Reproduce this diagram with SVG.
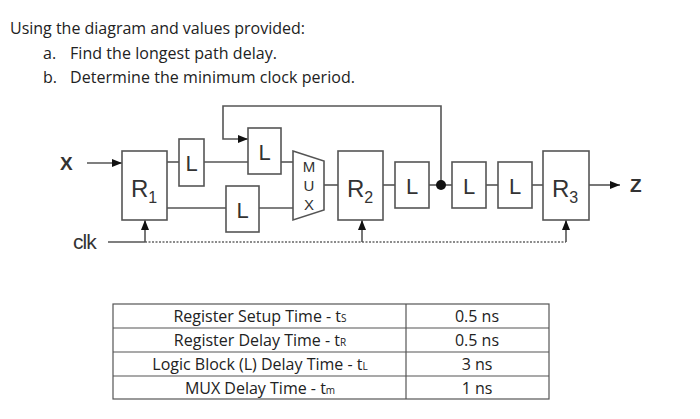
<svg xmlns="http://www.w3.org/2000/svg" width="700" height="419" viewBox="0 0 700 419">
<defs>
<marker id="ah" markerWidth="10" markerHeight="8" refX="10" refY="4" orient="auto" markerUnits="userSpaceOnUse"><path d="M0,0 L10,4 L0,8 Z" fill="#111"/></marker>
</defs>
<style>
.b{fill:#fff;stroke:#555;stroke-width:1.6}
.w{fill:none;stroke:#555;stroke-width:1.6}
.d{fill:none;stroke:#666;stroke-width:1.6;stroke-dasharray:2,1.5}
.t{font-family:"Open Sans","Liberation Sans",sans-serif;font-size:16px;fill:#222}
.a{font-family:"Liberation Sans",Arial,sans-serif;fill:#333}
.c{text-anchor:middle}
</style>
<rect width="700" height="419" fill="#fff"/>
<text class="t" x="10" y="34" textLength="295">Using the diagram and values provided:</text>
<text class="t" x="43" y="59">a.</text>
<text class="t" x="70" y="59" textLength="207">Find the longest path delay.</text>
<text class="t" x="43" y="83">b.</text>
<text class="t" x="70" y="83" textLength="285">Determine the minimum clock period.</text>

<g id="connectors">
<line class="w" x1="87" y1="163" x2="122" y2="163" marker-end="url(#ah)"/>
<line class="w" x1="167" y1="162" x2="179" y2="162"/>
<line class="w" x1="204" y1="162" x2="248" y2="162"/>
<line class="w" x1="281" y1="162" x2="293" y2="162"/>
<line class="w" x1="167" y1="208" x2="226" y2="208"/>
<line class="w" x1="259" y1="208" x2="293" y2="208"/>
<line class="w" x1="324" y1="185" x2="338" y2="185"/>
<line class="w" x1="383" y1="185" x2="395" y2="185"/>
<line class="w" x1="429" y1="185" x2="452" y2="185"/>
<line class="w" x1="486" y1="185" x2="498" y2="185"/>
<line class="w" x1="532" y1="185" x2="543" y2="185"/>
<line class="w" x1="589" y1="185" x2="620" y2="185" marker-end="url(#ah)"/>
<polyline class="w" points="441,185 441,106 223,106 223,139 248,139" marker-end="url(#ah)"/>
<circle cx="441" cy="185" r="5" fill="#111"/>
<line class="w" x1="108" y1="242" x2="145" y2="242"/>
<line class="d" x1="145" y1="242" x2="566" y2="242"/>
<line class="w" x1="145" y1="242" x2="145" y2="220" marker-end="url(#ah)"/>
<line class="w" x1="362" y1="242" x2="362" y2="220" marker-end="url(#ah)"/>
<line class="w" x1="566" y1="242" x2="566" y2="220" marker-end="url(#ah)"/>
</g>

<text class="a" x="60" y="170" font-size="19" font-weight="bold">X</text>
<text class="a" x="630" y="192" font-size="19" font-weight="bold">Z</text>
<text class="a" x="73" y="249" font-size="21" letter-spacing="-1">clk</text>

<g id="R1"><rect class="b" x="122" y="151" width="45" height="69"/><text class="a" x="131" y="197" font-size="24">R<tspan font-size="16" dy="6">1</tspan></text></g>
<g id="L1"><rect class="b" x="179" y="139" width="25" height="47"/><text class="a c" x="191.5" y="171" font-size="22">L</text></g>
<g id="L2"><rect class="b" x="248" y="128" width="33" height="46"/><text class="a c" x="264.5" y="160" font-size="22">L</text></g>
<g id="L3"><rect class="b" x="226" y="186" width="33" height="46"/><text class="a c" x="242.5" y="218" font-size="22">L</text></g>
<g id="MUX"><polygon class="b" points="293,151 324,161 324,210 293,220"/>
<text class="a c" x="309" y="172" font-size="15">M</text><text class="a c" x="309" y="191" font-size="15">U</text><text class="a c" x="309" y="210" font-size="15">X</text></g>
<g id="R2"><rect class="b" x="338" y="151" width="45" height="69"/><text class="a" x="347" y="197" font-size="24">R<tspan font-size="16" dy="6">2</tspan></text></g>
<g id="L4"><rect class="b" x="395" y="162" width="34" height="46"/><text class="a c" x="412" y="194" font-size="22">L</text></g>
<g id="L5"><rect class="b" x="452" y="162" width="34" height="46"/><text class="a c" x="469" y="194" font-size="22">L</text></g>
<g id="L6"><rect class="b" x="498" y="162" width="34" height="46"/><text class="a c" x="515" y="194" font-size="22">L</text></g>
<g id="R3"><rect class="b" x="543" y="151" width="46" height="69"/><text class="a" x="552" y="197" font-size="24">R<tspan font-size="16" dy="6">3</tspan></text></g>

<g id="table">
<rect x="113" y="304" width="436" height="95" fill="none" stroke="#555" stroke-width="1.2"/>
<line x1="406" y1="304" x2="406" y2="399" stroke="#555" stroke-width="1.2"/>
<line x1="113" y1="328" x2="549" y2="328" stroke="#555" stroke-width="1.2"/>
<line x1="113" y1="352" x2="549" y2="352" stroke="#555" stroke-width="1.2"/>
<line x1="113" y1="376" x2="549" y2="376" stroke="#555" stroke-width="1.2"/>
<text class="t c" x="260" y="322">Register Setup Time - t<tspan font-size="10">S</tspan></text>
<text class="t c" x="260" y="346">Register Delay Time - t<tspan font-size="10">R</tspan></text>
<text class="t c" x="260" y="370">Logic Block (L) Delay Time - t<tspan font-size="10">L</tspan></text>
<text class="t c" x="260" y="394">MUX Delay Time - t<tspan font-size="10">m</tspan></text>
<text class="t c" x="477" y="322">0.5 ns</text>
<text class="t c" x="477" y="346">0.5 ns</text>
<text class="t c" x="477" y="370">3 ns</text>
<text class="t c" x="477" y="394">1 ns</text>
</g>
</svg>
